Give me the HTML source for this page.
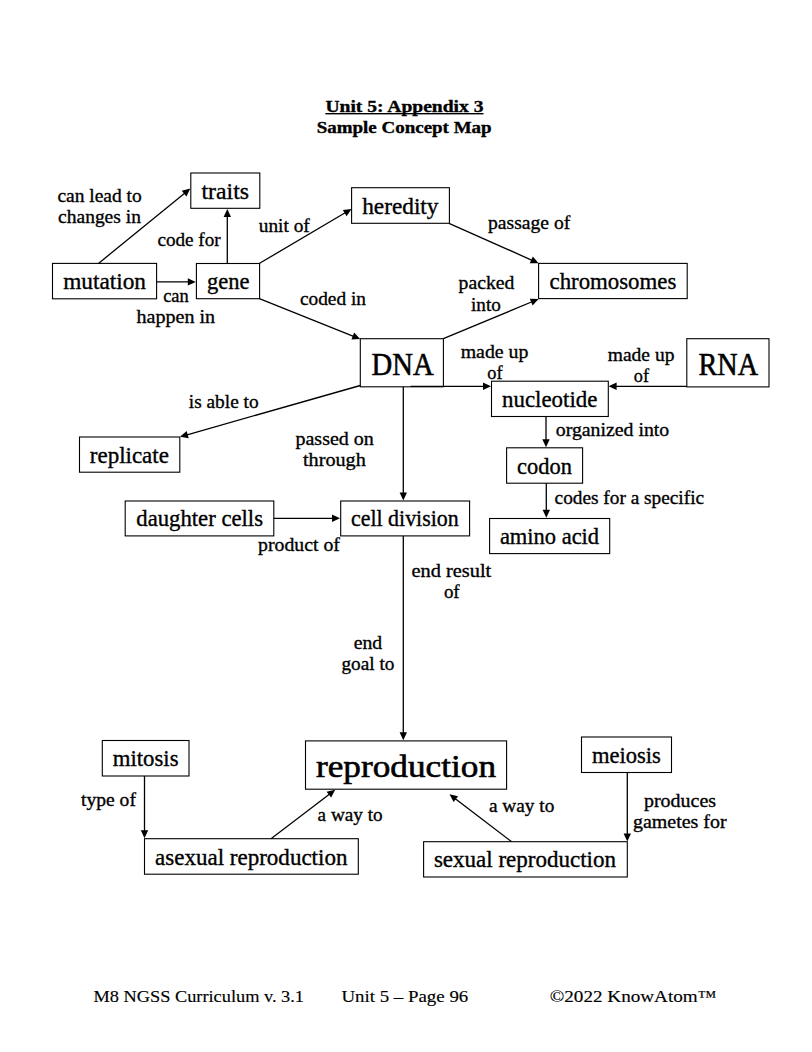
<!DOCTYPE html>
<html><head><meta charset="utf-8"><style>
html,body{margin:0;padding:0;background:#fff;}
body{width:812px;height:1052px;overflow:hidden;position:relative;}
svg{position:absolute;left:0;top:0;}
text{font-family:"Liberation Serif",serif;fill:#000;stroke:#000;stroke-width:0.35;}
.b{fill:none;stroke:#000;stroke-width:1.1;}
.l{stroke:#000;stroke-width:1.3;}
polygon{fill:#000;}
</style></head><body>
<svg width="812" height="1052" viewBox="0 0 812 1052">
<text x="325.4" y="111.7" font-size="17" font-weight="bold" textLength="158.1" lengthAdjust="spacingAndGlyphs">Unit 5: Appendix 3</text>
<rect x="325.4" y="113" width="158.1" height="1.4" fill="#000"/>
<text x="316.7" y="133.2" font-size="17" font-weight="bold" textLength="174.9" lengthAdjust="spacingAndGlyphs">Sample Concept Map</text>
<rect x="190.8" y="173" width="69.00" height="35.30" class="b"/>
<rect x="351.6" y="187.7" width="97.80" height="35.60" class="b"/>
<rect x="52.5" y="263.4" width="104.10" height="35.40" class="b"/>
<rect x="196.4" y="263.5" width="63.20" height="35.20" class="b"/>
<rect x="538.6" y="263.4" width="148.60" height="35.20" class="b"/>
<rect x="360.3" y="338.7" width="83.10" height="48.10" class="b"/>
<rect x="686.8" y="338.7" width="82.20" height="48.20" class="b"/>
<rect x="491.5" y="381.2" width="116.80" height="35.30" class="b"/>
<rect x="79.5" y="437" width="100.30" height="35.20" class="b"/>
<rect x="506.6" y="447.8" width="76.00" height="35.40" class="b"/>
<rect x="125.2" y="501" width="148.60" height="34.90" class="b"/>
<rect x="340.7" y="501" width="128.90" height="34.90" class="b"/>
<rect x="489.6" y="518.5" width="120.10" height="35.10" class="b"/>
<rect x="102.3" y="740.5" width="86.70" height="35.50" class="b"/>
<rect x="305.5" y="740.9" width="201.10" height="48.30" class="b"/>
<rect x="581.5" y="737" width="90.00" height="35.50" class="b"/>
<rect x="144.5" y="838.7" width="213.80" height="35.50" class="b"/>
<rect x="423.6" y="841.7" width="203.70" height="35.30" class="b"/>
<text x="201.5" y="198.8" font-size="22.5" textLength="47.50" lengthAdjust="spacingAndGlyphs">traits</text>
<text x="362.2" y="213.7" font-size="22.5" textLength="76.30" lengthAdjust="spacingAndGlyphs">heredity</text>
<text x="63.2" y="289.2" font-size="22.5" textLength="82.80" lengthAdjust="spacingAndGlyphs">mutation</text>
<text x="207" y="288.9" font-size="22.5" textLength="42.50" lengthAdjust="spacingAndGlyphs">gene</text>
<text x="549.5" y="288.7" font-size="22.5" textLength="126.80" lengthAdjust="spacingAndGlyphs">chromosomes</text>
<text x="371.5" y="374.9" font-size="32.5" textLength="62.10" lengthAdjust="spacingAndGlyphs" style="stroke-width:0.6">DNA</text>
<text x="698.5" y="374.9" font-size="32.5" textLength="59.60" lengthAdjust="spacingAndGlyphs" style="stroke-width:0.6">RNA</text>
<text x="502" y="406.8" font-size="22.5" textLength="95.40" lengthAdjust="spacingAndGlyphs">nucleotide</text>
<text x="89.8" y="462.6" font-size="22.5" textLength="79.10" lengthAdjust="spacingAndGlyphs">replicate</text>
<text x="517.1" y="473.6" font-size="22.5" textLength="54.80" lengthAdjust="spacingAndGlyphs">codon</text>
<text x="136.3" y="525.9" font-size="22.5" textLength="126.70" lengthAdjust="spacingAndGlyphs">daughter cells</text>
<text x="351" y="526.2" font-size="22.5" textLength="107.70" lengthAdjust="spacingAndGlyphs">cell division</text>
<text x="499.9" y="544" font-size="22.5" textLength="99.20" lengthAdjust="spacingAndGlyphs">amino acid</text>
<text x="112.8" y="765.8" font-size="22.5" textLength="65.70" lengthAdjust="spacingAndGlyphs">mitosis</text>
<text x="316" y="777.3" font-size="32" textLength="180.00" lengthAdjust="spacingAndGlyphs" style="stroke-width:0.6">reproduction</text>
<text x="592" y="762.6" font-size="22.5" textLength="68.90" lengthAdjust="spacingAndGlyphs">meiosis</text>
<text x="155.1" y="864.6" font-size="22.5" textLength="192.30" lengthAdjust="spacingAndGlyphs">asexual reproduction</text>
<text x="433.9" y="867.2" font-size="22.5" textLength="182.10" lengthAdjust="spacingAndGlyphs">sexual reproduction</text>
<text x="57.4" y="201.9" font-size="19.3" textLength="84.30" lengthAdjust="spacingAndGlyphs">can lead to</text>
<text x="58.1" y="223.3" font-size="19.3" textLength="82.80" lengthAdjust="spacingAndGlyphs">changes in</text>
<text x="157.4" y="245.5" font-size="19.3" textLength="63.20" lengthAdjust="spacingAndGlyphs">code for</text>
<text x="258.8" y="231.7" font-size="19.3" textLength="51.00" lengthAdjust="spacingAndGlyphs">unit of</text>
<text x="488" y="228.7" font-size="19.3" textLength="82.30" lengthAdjust="spacingAndGlyphs">passage of</text>
<text x="163.2" y="301.8" font-size="19.3" textLength="25.60" lengthAdjust="spacingAndGlyphs">can</text>
<text x="136.6" y="322.6" font-size="19.3" textLength="78.50" lengthAdjust="spacingAndGlyphs">happen in</text>
<text x="300" y="305" font-size="19.3" textLength="65.90" lengthAdjust="spacingAndGlyphs">coded in</text>
<text x="458.6" y="288.7" font-size="19.3" textLength="55.70" lengthAdjust="spacingAndGlyphs">packed</text>
<text x="471" y="310.5" font-size="19.3" textLength="29.80" lengthAdjust="spacingAndGlyphs">into</text>
<text x="460.7" y="358.2" font-size="19.3" textLength="67.70" lengthAdjust="spacingAndGlyphs">made up</text>
<text x="487.3" y="379" font-size="19.3" textLength="15.30" lengthAdjust="spacingAndGlyphs">of</text>
<text x="607.8" y="360.8" font-size="19.3" textLength="66.60" lengthAdjust="spacingAndGlyphs">made up</text>
<text x="633.8" y="381.9" font-size="19.3" textLength="15.20" lengthAdjust="spacingAndGlyphs">of</text>
<text x="188.8" y="407.5" font-size="19.3" textLength="69.80" lengthAdjust="spacingAndGlyphs">is able to</text>
<text x="295.5" y="445" font-size="19.3" textLength="78.30" lengthAdjust="spacingAndGlyphs">passed on</text>
<text x="303" y="466.4" font-size="19.3" textLength="62.80" lengthAdjust="spacingAndGlyphs">through</text>
<text x="555.8" y="435.7" font-size="19.3" textLength="113.40" lengthAdjust="spacingAndGlyphs">organized into</text>
<text x="554.6" y="504" font-size="19.3" textLength="149.50" lengthAdjust="spacingAndGlyphs">codes for a specific</text>
<text x="258" y="551.3" font-size="19.3" textLength="81.90" lengthAdjust="spacingAndGlyphs">product of</text>
<text x="411.6" y="577.4" font-size="19.3" textLength="79.60" lengthAdjust="spacingAndGlyphs">end result</text>
<text x="443.9" y="597.9" font-size="19.3" textLength="15.80" lengthAdjust="spacingAndGlyphs">of</text>
<text x="353.7" y="649" font-size="19.3" textLength="28.40" lengthAdjust="spacingAndGlyphs">end</text>
<text x="341.4" y="670" font-size="19.3" textLength="53.00" lengthAdjust="spacingAndGlyphs">goal to</text>
<text x="81.1" y="805.8" font-size="19.3" textLength="54.80" lengthAdjust="spacingAndGlyphs">type of</text>
<text x="317.6" y="821.3" font-size="19.3" textLength="65.00" lengthAdjust="spacingAndGlyphs">a way to</text>
<text x="489" y="811.8" font-size="19.3" textLength="65.30" lengthAdjust="spacingAndGlyphs">a way to</text>
<text x="644" y="806.5" font-size="19.3" textLength="72.00" lengthAdjust="spacingAndGlyphs">produces</text>
<text x="633" y="827.9" font-size="19.3" textLength="93.60" lengthAdjust="spacingAndGlyphs">gametes for</text>
<line x1="98.5" y1="263.4" x2="185.26" y2="192.71" class="l"/>
<polygon points="190.30,188.60 186.44,196.52 181.76,190.79"/>
<line x1="156.6" y1="281.9" x2="189.30" y2="281.90" class="l"/>
<polygon points="195.80,281.90 187.80,285.60 187.80,278.20"/>
<line x1="227.3" y1="263.5" x2="227.30" y2="215.50" class="l"/>
<polygon points="227.30,209.00 231.00,217.00 223.60,217.00"/>
<line x1="259.6" y1="263.3" x2="346.00" y2="212.30" class="l"/>
<polygon points="351.60,209.00 346.59,216.25 342.83,209.88"/>
<line x1="449" y1="223.3" x2="532.66" y2="260.56" class="l"/>
<polygon points="538.60,263.20 529.79,263.33 532.80,256.57"/>
<line x1="443.4" y1="338.7" x2="532.60" y2="301.50" class="l"/>
<polygon points="538.60,299.00 532.64,305.49 529.79,298.66"/>
<line x1="259.4" y1="298.7" x2="354.16" y2="336.59" class="l"/>
<polygon points="360.20,339.00 351.40,339.47 354.15,332.59"/>
<line x1="360.3" y1="385.5" x2="186.25" y2="435.02" class="l"/>
<polygon points="180.00,436.80 186.68,431.05 188.71,438.17"/>
<line x1="403.3" y1="386.8" x2="403.30" y2="494.00" class="l"/>
<polygon points="403.30,500.50 399.60,492.50 407.00,492.50"/>
<line x1="410.7" y1="386.3" x2="484.50" y2="386.30" class="l"/>
<polygon points="491.00,386.30 483.00,390.00 483.00,382.60"/>
<line x1="686.8" y1="386.3" x2="615.10" y2="386.30" class="l"/>
<polygon points="608.60,386.30 616.60,382.60 616.60,390.00"/>
<line x1="546" y1="416.5" x2="546.00" y2="440.80" class="l"/>
<polygon points="546.00,447.30 542.30,439.30 549.70,439.30"/>
<line x1="546.3" y1="483.2" x2="546.30" y2="511.30" class="l"/>
<polygon points="546.30,517.80 542.60,509.80 550.00,509.80"/>
<line x1="274" y1="518.3" x2="333.50" y2="518.30" class="l"/>
<polygon points="340.00,518.30 332.00,522.00 332.00,514.60"/>
<line x1="403.3" y1="535.9" x2="403.30" y2="733.70" class="l"/>
<polygon points="403.30,740.20 399.60,732.20 407.00,732.20"/>
<line x1="144.5" y1="776" x2="144.50" y2="831.70" class="l"/>
<polygon points="144.50,838.20 140.80,830.20 148.20,830.20"/>
<line x1="271" y1="838.8" x2="330.03" y2="793.74" class="l"/>
<polygon points="335.20,789.80 331.09,797.59 326.60,791.71"/>
<line x1="511.4" y1="841.6" x2="454.66" y2="798.15" class="l"/>
<polygon points="449.50,794.20 458.10,796.13 453.60,802.00"/>
<line x1="627.3" y1="772.5" x2="627.30" y2="835.00" class="l"/>
<polygon points="627.30,841.50 623.60,833.50 631.00,833.50"/>
<text x="93.5" y="1001.9" font-size="17.2" style="stroke-width:0.15" textLength="210.5" lengthAdjust="spacingAndGlyphs">M8 NGSS Curriculum v. 3.1</text>
<text x="341.4" y="1001.9" font-size="17.2" style="stroke-width:0.15" textLength="126.9" lengthAdjust="spacingAndGlyphs">Unit 5 – Page 96</text>
<text x="549.7" y="1001.9" font-size="17.2" style="stroke-width:0.15" textLength="166.8" lengthAdjust="spacingAndGlyphs">©2022 KnowAtom™</text>
</svg>
</body></html>
